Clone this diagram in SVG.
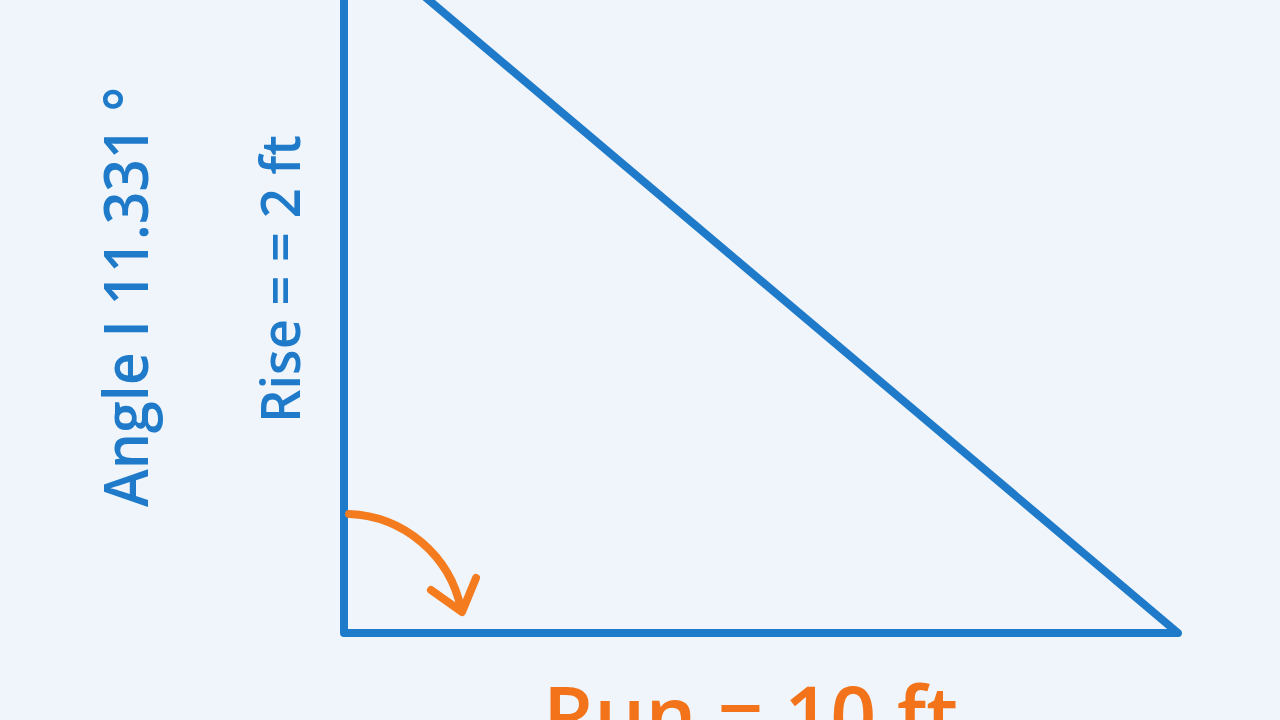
<svg xmlns="http://www.w3.org/2000/svg" width="1280" height="720" viewBox="0 0 1280 720">
  <defs>
    <style>
      .edge { fill: none; stroke: #1F7BC9; stroke-width: 8; stroke-linecap: round; stroke-linejoin: round; }
      .arc { fill: none; stroke: #F47B1E; stroke-width: 8; stroke-linecap: round; stroke-linejoin: round; }
      .lbl { font-family: "Open Sans", "Liberation Sans", sans-serif; font-weight: 600; fill: #1F7BC9; }
      .run { font-family: "Open Sans", "Liberation Sans", sans-serif; font-weight: 600; fill: #F2731A; }
    </style>
  </defs>
  <rect width="1280" height="720" fill="#EFF5FA"/>
  <g id="triangle">
    <path class="edge" d="M 344 -10 L 344 633 L 1178 633 L 424 -4"/>
  </g>
  <g id="connectors">
    <path class="arc" d="M 349 514 A 119 119 0 0 1 461 609"/>
    <path class="arc" d="M 431 590 L 462 612 L 476 578"/>
  </g>
  <g id="angle-label">
    <text class="lbl" transform="translate(148,507) rotate(-90)" font-size="62" textLength="420" lengthAdjust="spacingAndGlyphs">Angle I 11.331 °</text>
  </g>
  <g id="rise-label">
    <text class="lbl" transform="translate(300,423) rotate(-90)" font-size="54" textLength="288" lengthAdjust="spacingAndGlyphs">Rise = = 2 ft</text>
  </g>
  <g id="run-label">
    <text class="run" x="543" y="745" font-size="82" textLength="415" lengthAdjust="spacingAndGlyphs">Run = 10 ft</text>
  </g>
</svg>
